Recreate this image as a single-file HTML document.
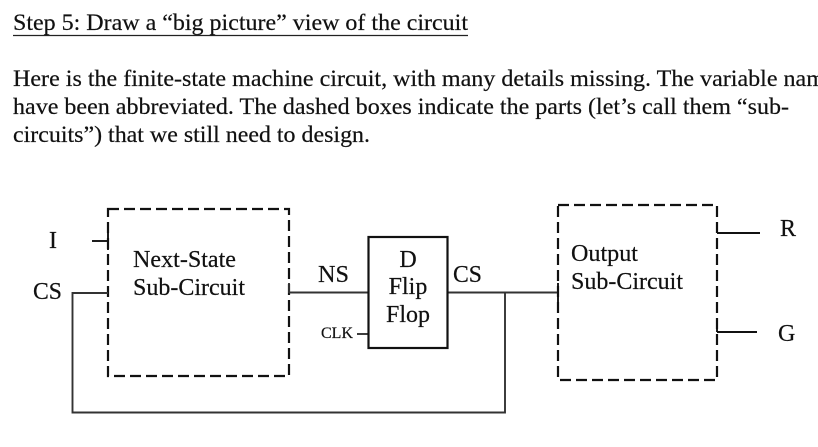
<!DOCTYPE html>
<html>
<head>
<meta charset="utf-8">
<style>
html,body{margin:0;padding:0;background:#fff;}
body{width:818px;height:447px;overflow:hidden;position:relative;}
svg{position:absolute;left:0;top:0;}
text{font-family:"Liberation Serif",serif;fill:#111;stroke:#111;stroke-width:0.2;}
</style>
</head>
<body>
<svg width="818" height="447" viewBox="0 0 818 447" xmlns="http://www.w3.org/2000/svg">
<g font-size="23.5">
<text x="13" y="30" textLength="455" lengthAdjust="spacingAndGlyphs">Step 5: Draw a “big picture” view of the circuit</text>
<text x="13" y="86" textLength="832" lengthAdjust="spacingAndGlyphs">Here is the finite-state machine circuit, with many details missing. The variable names</text>
<text x="13" y="114" textLength="776" lengthAdjust="spacingAndGlyphs">have been abbreviated. The dashed boxes indicate the parts (let’s call them “sub-</text>
<text x="13" y="142" textLength="357" lengthAdjust="spacingAndGlyphs">circuits”) that we still need to design.</text>
</g>
<line x1="13" y1="35.500" x2="468" y2="35.500" stroke="#222" stroke-width="1.300"/>

<g fill="none" stroke="#111" stroke-width="2.200" stroke-dasharray="11 5">
<rect x="108" y="209" width="181" height="167"/>
<rect x="558" y="205" width="159" height="175"/>
</g>

<g fill="none" stroke="#333" stroke-width="1.900">
<path d="M92 241H108" stroke="#111"/>
<path d="M108 232V250" stroke="#111"/>
<path d="M108 293H72.500V412.500H505V292.500"/>
<path d="M289 292.500H368"/>
<path d="M289 283V293"/>
<path d="M448 292.500H558"/>
<path d="M558 283V302" stroke="#111"/>
<path d="M357 334H368"/>
<path d="M717 233H760" stroke="#111"/>
<path d="M717 222V233" stroke="#111"/>
<path d="M717 332H757" stroke="#111"/>
<path d="M717 321V332" stroke="#111"/>
</g>
<rect x="368.500" y="237" width="79" height="111" fill="#fff" stroke="#111" stroke-width="2.200"/>

<g font-size="24">
<text x="49" y="248">I</text>
<text x="33" y="299" textLength="29" lengthAdjust="spacingAndGlyphs">CS</text>
<text x="133" y="267" textLength="103" lengthAdjust="spacingAndGlyphs">Next-State</text>
<text x="133" y="295" textLength="112" lengthAdjust="spacingAndGlyphs">Sub-Circuit</text>
<text x="318" y="282" textLength="31" lengthAdjust="spacingAndGlyphs">NS</text>
<text x="453" y="282" textLength="29" lengthAdjust="spacingAndGlyphs">CS</text>
<text x="408" y="267" text-anchor="middle">D</text>
<text x="408" y="294" text-anchor="middle">Flip</text>
<text x="408" y="322" text-anchor="middle">Flop</text>
<text x="571" y="261" textLength="67" lengthAdjust="spacingAndGlyphs">Output</text>
<text x="571" y="289" textLength="112" lengthAdjust="spacingAndGlyphs">Sub-Circuit</text>
<text x="780" y="236">R</text>
<text x="778" y="341">G</text>
</g>
<text x="321" y="338" font-size="16">CLK</text>
</svg>
</body>
</html>
